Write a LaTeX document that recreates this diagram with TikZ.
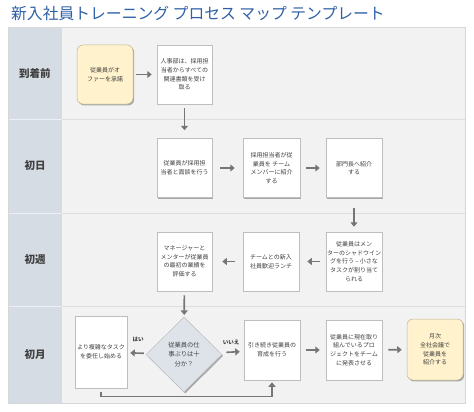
\documentclass[tikz,border=0pt]{standalone}
\usepackage{fontspec}
\setmainfont{Noto Sans CJK JP}
\usetikzlibrary{arrows.meta,shapes.geometric,shadows}
\definecolor{titleblue}{RGB}{46,96,166}
\definecolor{lanebg}{RGB}{242,242,242}
\definecolor{labelbg}{RGB}{214,220,228}
\definecolor{sepc}{RGB}{222,222,222}
\definecolor{sepl}{RGB}{236,240,245}
\definecolor{framec}{RGB}{215,215,215}
\definecolor{boxline}{RGB}{190,190,190}
\definecolor{yel}{RGB}{255,242,204}
\definecolor{yelline}{RGB}{190,180,150}
\definecolor{diaf}{RGB}{222,227,234}
\definecolor{arrc}{RGB}{118,118,118}
\definecolor{txt}{RGB}{64,64,64}
\begin{document}
\begin{tikzpicture}[x=1pt,y=-1pt,
  shad/.style={drop shadow={shadow xshift=1.2pt,shadow yshift=-1.4pt,opacity=0.3,fill=black}},
  procbox/.style={draw=boxline,fill=white,line width=0.5pt,minimum width=55pt,minimum height=59pt,
    inner sep=1pt,align=center,font=\fontsize{6}{8.6}\selectfont,text=txt,shad},
  termbox/.style={procbox,fill=yel,draw=yelline,rounded corners=6pt},
  decbox/.style={diamond,draw=boxline,fill=diaf,line width=0.5pt,minimum width=76pt,minimum height=75pt,
    inner sep=0pt,align=center,font=\fontsize{6.3}{9.5}\selectfont,text=txt,shad},
  arr/.style={draw=arrc,line width=1.6pt,-{Triangle[length=4.5pt,width=7pt]}},
  lanelabel/.style={font=\fontsize{10.5}{12}\selectfont\bfseries,text=txt},
  yn/.style={font=\fontsize{5.5}{6}\selectfont\bfseries,text=txt}
]
\useasboundingbox (0,0) rectangle (474,412);
% title
\node[anchor=west,font=\fontsize{15.8}{18}\selectfont,text=titleblue,inner sep=0pt] (title) at (11,14)
  {新入社員トレーニング プロセス マップ テンプレート};
% lanes
\fill[lanebg] (8,27) rectangle (465,403);
\fill[labelbg] (8,27) rectangle (62,403);
\foreach \yy in {119,213,306}{
  \draw[sepc,line width=0.8pt] (62,\yy) -- (465,\yy);
  \draw[sepl,line width=0.8pt] (8,\yy) -- (62,\yy);
}
\draw[framec,line width=0.6pt] (8,27) rectangle (465,403);
\node[lanelabel] (l1) at (35,73) {到着前};
\node[lanelabel] (l2) at (35,166) {初日};
\node[lanelabel] (l3) at (35,260) {初週};
\node[lanelabel] (l4) at (35,355) {初月};
% row 1
\node[termbox,minimum width=56pt] (y1) at (105,74.5) {従業員がオ\\ファーを承諾};
\node[procbox] (b2) at (184.5,74.5) {人事部は、採用担\\当者からすべての\\関連書類を受け\\取る};
% row 2
\node[procbox] (b3) at (184.5,168) {従業員が採用担\\当者と面談を行う};
\node[procbox,minimum width=57pt] (b4) at (271.5,168) {採用担当者が従\\業員を チーム\\メンバーに紹介\\する};
\node[procbox,minimum width=56pt] (b5) at (354,168) {部門長へ紹介\\する};
% row 3
\node[procbox,minimum width=56pt] (b6) at (354,261.5) {従業員はメン\\ターのシャドウイン\\グを行う – 小さな\\タスクが割り当て\\られる};
\node[procbox,minimum width=56pt] (b7) at (271,261.5) {チームとの新入\\社員歓迎ランチ};
\node[procbox] (b8) at (184.5,261.5) {マネージャーと\\メンターが従業員\\の最初の業績を\\評価する};
% row 4
\node[decbox] (d) at (184,354.5) {従業員の仕\\事ぶりは十\\分か？};
\node[procbox,minimum width=52pt,minimum height=72pt] (b9) at (101,352) {より複雑なタスク\\を委任し始める};
\node[procbox,minimum width=56pt,minimum height=60pt] (b10) at (272,350) {引き続き従業員の\\育成を行う};
\node[procbox,minimum width=56pt,minimum height=60pt] (b11) at (354,350) {従業員に現在取り\\組んでいるプロ\\ジェクトをチーム\\に発表させる};
\node[termbox,minimum width=56pt,minimum height=61pt] (y2) at (435,349.5) {月次\\全社会議で\\従業員を\\紹介する};
\node[yn] (yes) at (138,339) {はい};
\node[yn] (no) at (231,342) {いいえ};
% connectors
\draw[arr,shorten <=3pt,shorten >=5pt] (y1) -- (b2);
\draw[arr,shorten <=4pt,shorten >=8pt] (b2) -- (b3);
\draw[arr,shorten <=8pt,shorten >=8pt] (b3) -- (b4);
\draw[arr,shorten <=6pt,shorten >=6pt] (b4) -- (b5);
\draw[arr,shorten <=10pt,shorten >=5pt] (b5) -- (b6);
\draw[arr,shorten <=6pt,shorten >=8pt] (b6) -- (b7);
\draw[arr,shorten <=8pt,shorten >=10pt] (b7) -- (b8);
\draw[arr,shorten <=4pt,shorten >=2pt] (b8) -- (d);
\draw[arr,shorten <=3pt,shorten >=3pt] (d) -- (b9);
\draw[arr,shorten <=6pt,shorten >=4pt] (d) -- (b10);
\draw[arr,shorten <=6pt,shorten >=6pt] (b10) -- (b11);
\draw[arr,shorten <=6pt,shorten >=5pt] (b11) -- (y2);
\draw[arr,line width=1.4pt,shorten <=4pt,shorten >=2pt] (b9.south) -- ++(0,8) -| (b10.south);
\end{tikzpicture}
\end{document}
